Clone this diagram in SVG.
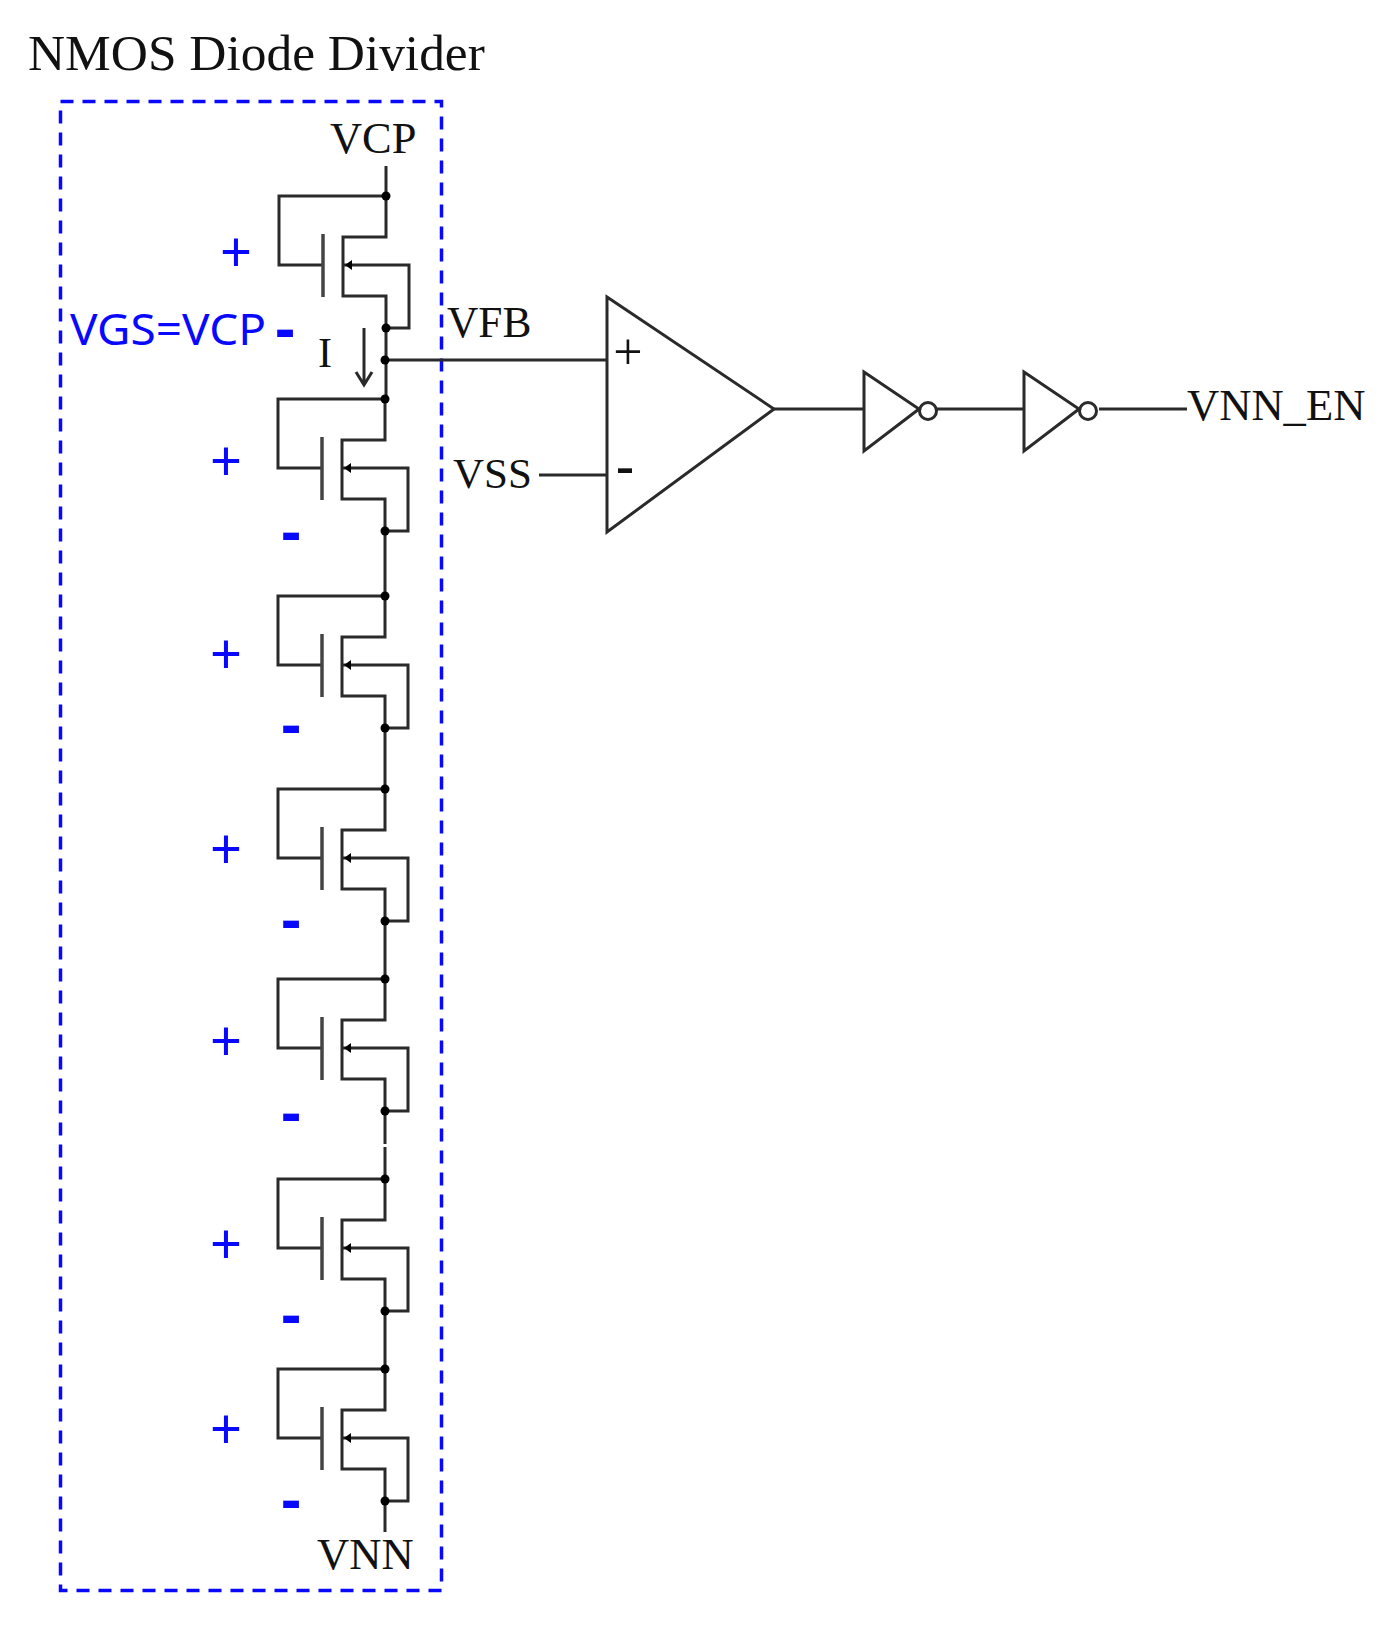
<svg xmlns="http://www.w3.org/2000/svg" xmlns:xlink="http://www.w3.org/1999/xlink" width="1389" height="1630" viewBox="0 0 1389 1630">
<style>
.w{fill:none;stroke:#2a2a2a;stroke-width:3}
.g{fill:none;stroke:#444;stroke-width:3.500}
.d{fill:#000}
.t{font-family:"Liberation Serif",serif;fill:#111}
.b{font-family:"Noto Sans",sans-serif;fill:#0808ff}
.p{font-size:56px;text-anchor:middle}
.m{font-size:60px;font-weight:700;text-anchor:middle}
</style>
<defs>
<g id="fet">
<path class="w" d="M0,0H-107V69H-63M0,0V41H-43V100H0V132M-43,69H23V132H0"/>
<path class="g" d="M-63,38V101"/>
<path class="d" d="M-41,69L-34,64V74Z"/>
<circle class="d" cx="0" cy="0" r="4.500"/>
<circle class="d" cx="0" cy="132" r="4.500"/>
</g>
</defs>
<rect x="0" y="0" width="1389" height="1630" fill="#fff"/>
<rect id="divider-box" x="60.500" y="101.500" width="381" height="1489" fill="none" stroke="#0808ff" stroke-width="3.500" stroke-dasharray="13 9"/>
<g id="connectors">
<path class="w" d="M386,166V196M386,328V399M385,531V596M385,728V789M385,921V979M385,1111V1144M385,1147V1179M385,1311V1369M385,1501V1532"/>
<path class="w" d="M385,360H607M539,475H607M774,409H864M937,409H1025M1099,409H1187"/>
<path class="w" d="M364,328V384M356,372L364,385L372,372"/>
<circle class="d" cx="385" cy="360" r="4.500"/>
</g>
<g id="m1"><use xlink:href="#fet" href="#fet" transform="translate(386,196)"/></g>
<g id="m2"><use xlink:href="#fet" href="#fet" transform="translate(385,399)"/></g>
<g id="m3"><use xlink:href="#fet" href="#fet" transform="translate(385,596)"/></g>
<g id="m4"><use xlink:href="#fet" href="#fet" transform="translate(385,789)"/></g>
<g id="m5"><use xlink:href="#fet" href="#fet" transform="translate(385,979)"/></g>
<g id="m6"><use xlink:href="#fet" href="#fet" transform="translate(385,1179)"/></g>
<g id="m7"><use xlink:href="#fet" href="#fet" transform="translate(385,1369)"/></g>
<g id="comparator"><path class="w" d="M607,297L774,409L607,532Z"/>
<text class="t" x="628" y="369" font-size="52" text-anchor="middle">+</text>
<text class="t" x="625" y="484" font-size="54" font-weight="700" text-anchor="middle">-</text></g>
<g id="inv1"><path class="w" d="M864,372L919,409L864,451Z"/><circle class="w" cx="928" cy="411" r="8.500" fill="#fff"/></g>
<g id="inv2"><path class="w" d="M1024,372L1079,409L1024,451Z"/><circle class="w" cx="1088" cy="411" r="8.500" fill="#fff"/></g>
<g id="labels">
<text class="t" x="28" y="70" font-size="51.400">NMOS Diode Divider</text>
<text class="t" x="330" y="153" font-size="44.400">VCP</text>
<text class="t" x="447" y="337" font-size="43.400">VFB</text>
<text class="t" x="453" y="488" font-size="43">VSS</text>
<text class="t" x="317" y="1569" font-size="44.600">VNN</text>
<text class="t" x="1187" y="420" font-size="44.600">VNN_EN</text>
<text class="t" x="325" y="367" font-size="42" text-anchor="middle">I</text>
<text class="b" x="70" y="345" font-size="44" textLength="196" lengthAdjust="spacingAndGlyphs">VGS=VCP</text>
<text class="b p" x="236" y="272">+</text>
<text class="b m" x="285" y="349">-</text>
<text class="b p" x="226" y="481">+</text><text class="b m" x="291" y="552">-</text>
<text class="b p" x="226" y="674">+</text><text class="b m" x="291" y="745">-</text>
<text class="b p" x="226" y="869">+</text><text class="b m" x="291" y="940">-</text>
<text class="b p" x="226" y="1061">+</text><text class="b m" x="291" y="1133">-</text>
<text class="b p" x="226" y="1264">+</text><text class="b m" x="291" y="1335">-</text>
<text class="b p" x="226" y="1449">+</text><text class="b m" x="291" y="1520">-</text>
</g>
</svg>
